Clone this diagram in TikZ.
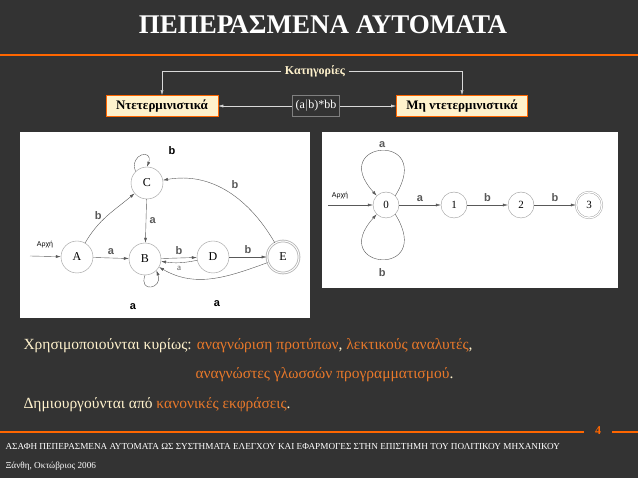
\documentclass[tikz,border=0pt]{standalone}
\usepackage{fontspec}
\setmainfont{Liberation Serif}
\setsansfont{Liberation Sans}
\usetikzlibrary{arrows.meta}
\definecolor{slidebg}{HTML}{333333}
\definecolor{accent}{HTML}{FF6600}
\definecolor{cream}{HTML}{FFF2CC}
\definecolor{hilite}{HTML}{E8782A}
\begin{document}
\begin{tikzpicture}
        [x=1pt, y=-1pt,
        state/.style={circle,draw=gray!80,fill=white,minimum size=32pt,inner sep=0pt,font=\fontsize{12}{14}\selectfont},
        small/.style={circle,draw=gray!80,fill=white,minimum size=26pt,inner sep=0pt,font=\fontsize{11}{13}\selectfont},
        final/.style={state,double=white,draw=gray!60,line width=0.8pt,double distance=1pt},
        trans/.style={-{Latex[length=5pt,width=3pt]},gray!70!black,thin},
        sym/.style={font=\fontsize{11}{12}\sffamily\bfseries\selectfont},
        cat/.style={draw=accent,fill=cream,thick,font=\fontsize{13}{15}\selectfont\bfseries,minimum height=21pt,inner xsep=10pt},
        link/.style={-{Latex[length=5pt,width=3pt]},white!85!black,thin},
        body/.style={anchor=west,font=\fontsize{15.5}{17}\selectfont,text=cream}]

        \fill[slidebg] (0,0) rectangle (638,478);
        \useasboundingbox (0,0) rectangle (638,478);

        % title
        \node[text=white,font=\fontsize{27}{29}\selectfont\bfseries] (title) at (323,25) {ΠΕΠΕΡΑΣΜΕΝΑ ΑΥΤΟΜΑΤΑ};
        \draw[accent,line width=2.5pt] (0,55) -- (638,55);

        % categories
        \node[text=cream,font=\fontsize{12}{14}\selectfont\bfseries] (kat) at (315,71) {Κατηγορίες};
        \node[cat] (det) at (162,106) {Ντετερμινιστικά};
        \node[cat] (ndet) at (462,106) {Μη ντετερμινιστικά};
        \node[draw=gray,fill=slidebg,text=white,minimum height=21pt,font=\fontsize{12}{14}\selectfont] (re) at (316,106) {(a$|$b)*bb};
        \draw[link] (kat.west) -| (det.north);
        \draw[link] (kat.east) -| (ndet.north);
        \draw[link] (re) -- (det);
        \draw[link] (re) -- (ndet);

        % left panel: DFA
        \fill[white] (20,132) rectangle (310,318);
        \node[state] (A) at (77,257) {A};
        \node[state] (C) at (147,183) {C};
        \node[state] (B) at (145,259) {B};
        \node[state] (D) at (213,257) {D};
        \node[final] (E) at (283,257) {E};
        \coordinate (startA) at (30,256);
        \node[font=\sffamily\scriptsize] at (45,245) {Αρχή};

        \draw[trans] (startA) -- (A);
        \draw[trans] (A) -- node[sym,above] {a} (B);
        \draw[trans] (A) to[out=60,in=220] node[sym,left=2pt] {b} (C);
        \draw[trans] (C) -- node[sym,right] {a} (B);
        \draw[trans] (B) -- node[sym,above] {b} (D);
        \draw[trans] (D) to[bend left=10] node[below,font=\small] {a} (B);
        \draw[trans] (D) -- node[sym,above] {b} (E);
        \draw[trans] (E) to[out=120,in=10] node[sym,above right] {b} (C);
        \draw[trans] (E) to[out=200,in=-30] (B);
        \node[sym] at (217,304) {a};
        \draw[trans] (C.north west) to[out=110,in=70,looseness=4] (C.north);
        \node[sym] at (172,151) {b};
        \draw[trans] (B.south) to[out=-110,in=-70,looseness=4] (B.south east);
        \node[sym] at (133,307) {a};

        % right panel: NFA
        \fill[white] (322,132) rectangle (618,288);
        \node[small] (q0) at (386,205) {0};
        \node[small] (q1) at (454,205) {1};
        \node[small] (q2) at (521,205) {2};
        \node[small,double,double distance=1.2pt] (q3) at (589,205) {3};
        \coordinate (start0) at (328,205);
        \node[font=\sffamily\scriptsize] at (340,196) {Αρχή};

        \draw[trans] (start0) -- (q0);
        \draw[trans] (q0.north east) .. controls +(40,-65) and +(-50,-55) .. node[sym,above] {a} (q0.north west);
        \draw[trans] (q0.south east) .. controls +(40,65) and +(-50,55) .. node[sym,below=6pt] {b} (q0.south west);
        \draw[trans] (q0) -- node[sym,above] {a} (q1);
        \draw[trans] (q1) -- node[sym,above] {b} (q2);
        \draw[trans] (q2) -- node[sym,above] {b} (q3);

        % body text
        \node[body] (l1) at (20,346) {Χρησιμοποιούνται κυρίως: \textcolor{hilite}{αναγνώριση προτύπων}, \textcolor{hilite}{λεκτικούς αναλυτές},};
        \node[body] (l2) at (192,375) {\textcolor{hilite}{αναγνώστες γλωσσών προγραμματισμού}.};
        \node[body] (l3) at (20,405) {Δημιουργούνται από \textcolor{hilite}{κανονικές εκφράσεις}.};

        % footer
        \draw[accent,line width=2.5pt] (0,432) -- (584,432);
        \draw[accent,line width=2.5pt] (612,432) -- (638,432);
        \node[text=accent,font=\fontsize{12}{14}\selectfont\bfseries] (page) at (598,431) {4};
        \node[anchor=west,text=white,font=\fontsize{9.2}{10}\selectfont] (foot) at (2,447) {ΑΣΑΦΗ ΠΕΠΕΡΑΣΜΕΝΑ ΑΥΤΟΜΑΤΑ ΩΣ ΣΥΣΤΗΜΑΤΑ ΕΛΕΓΧΟΥ ΚΑΙ ΕΦΑΡΜΟΓΕΣ ΣΤΗΝ ΕΠΙΣΤΗΜΗ ΤΟΥ ΠΟΛΙΤΙΚΟΥ ΜΗΧΑΝΙΚΟΥ};
        \node[anchor=west,text=white,font=\fontsize{9.2}{10}\selectfont] (date) at (2,466) {Ξάνθη, Οκτώβριος 2006};
    \end{tikzpicture}
\end{document}
